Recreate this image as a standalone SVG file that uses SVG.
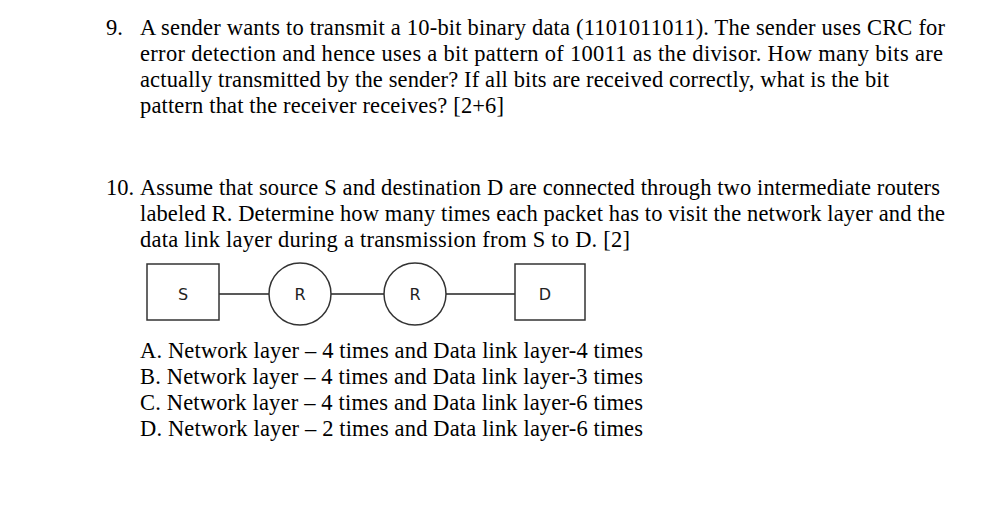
<svg xmlns="http://www.w3.org/2000/svg" width="988" height="530" viewBox="0 0 988 530">
<style>
.t{font-family:"Liberation Serif",serif;font-size:22.5px;fill:#000}
.n{fill:#fff;stroke:#333;stroke-width:1.5}
.l{font-family:"DejaVu Sans",sans-serif;font-size:16px;fill:#222;text-anchor:middle}
.c{stroke:#222;stroke-width:1.5}
</style>
<rect width="988" height="530" fill="#fff"/>
<text class="t" x="106" y="35">9.</text>
<text class="t" x="140" y="35" textLength="805">A sender wants to transmit a 10-bit binary data (1101011011). The sender uses CRC for</text>
<text class="t" x="140" y="61" textLength="803">error detection and hence uses a bit pattern of 10011 as the divisor. How many bits are</text>
<text class="t" x="140" y="87" textLength="749">actually transmitted by the sender? If all bits are received correctly, what is the bit</text>
<text class="t" x="140" y="113" textLength="364">pattern that the receiver receives? [2+6]</text>
<text class="t" x="106" y="195">10.</text>
<text class="t" x="140" y="195" textLength="800">Assume that source S and destination D are connected through two intermediate routers</text>
<text class="t" x="140" y="221" textLength="805">labeled R. Determine how many times each packet has to visit the network layer and the</text>
<text class="t" x="140" y="247" textLength="490">data link layer during a transmission from S to D.  [2]</text>
<g id="connectors">
<line class="c" x1="219" y1="294" x2="269" y2="294"/>
<line class="c" x1="331" y1="294" x2="384" y2="294"/>
<line class="c" x1="446" y1="294" x2="515" y2="294"/>
</g>
<g id="S"><rect class="n" x="147" y="264" width="72" height="56"/><text class="l" x="183" y="300">S</text></g>
<g id="R1"><circle class="n" cx="300" cy="294" r="31"/><text class="l" x="300" y="300">R</text></g>
<g id="R2"><circle class="n" cx="415" cy="294" r="31"/><text class="l" x="415" y="300">R</text></g>
<g id="D"><rect class="n" x="515" y="264" width="70" height="56"/><text class="l" x="545" y="300">D</text></g>
<text class="t" x="140" y="358" textLength="503">A. Network layer – 4 times and Data link layer-4 times</text>
<text class="t" x="140" y="384" textLength="503">B. Network layer – 4 times and Data link layer-3 times</text>
<text class="t" x="140" y="410" textLength="503">C. Network layer – 4 times and Data link layer-6 times</text>
<text class="t" x="140" y="436" textLength="503">D. Network layer – 2 times and Data link layer-6 times</text>
</svg>
